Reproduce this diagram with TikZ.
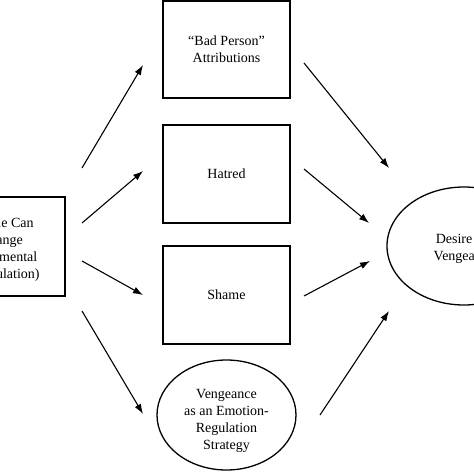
\documentclass[tikz,border=0pt]{standalone}
\usepackage{fontspec}
\setmainfont{Liberation Serif}
\usetikzlibrary{arrows.meta,shapes.geometric}

\begin{document}
\begin{tikzpicture}[x=1pt, y=-1pt, line width=1.3pt,
  box/.style={draw, rectangle, minimum width=127pt, minimum height=97pt,
    inner sep=0pt, align=center, font=\fontsize{14}{17}\selectfont},
  oval/.style={draw, ellipse, minimum width=140pt, minimum height=112pt,
    inner sep=0pt, align=center, font=\fontsize{14}{17}\selectfont},
  link/.style={line width=1.1pt, -{Latex[length=10pt, width=7pt]}}]
  \useasboundingbox (0,0) rectangle (474,474);
  \clip (0,0) rectangle (474,474);

  \node[box, minimum height=99pt] (change) at (1.5,246.5)
    {\rule{0pt}{16pt}People Can\\Change\\(Incremental\\\hspace*{10pt}Regulation)};
  \node[box] (bad) at (226.5,49.5) {“Bad Person”\\Attributions};
  \node[box, minimum height=98pt] (hatred) at (226.5,174) {Hatred};
  \node[box, minimum height=98pt] (shame) at (226.5,295) {Shame};
  \node[oval, minimum width=139pt, minimum height=110pt] (strategy) at (226.5,415)
    {\rule{0pt}{21pt}Vengeance\\as an Emotion-\\Regulation\\Strategy};
  \node[oval, minimum width=154pt, minimum height=118pt] (desire) at (464,246)
    {\rule{0pt}{16pt}Desire for\\Vengeance};

  \coordinate (c1s) at (82,168);  \coordinate (c1e) at (143,65);
  \coordinate (c2s) at (82,223);  \coordinate (c2e) at (143,171);
  \coordinate (c3s) at (82,261);  \coordinate (c3e) at (143,295);
  \coordinate (c4s) at (82,311);  \coordinate (c4e) at (143,414);
  \coordinate (d1s) at (304,63);  \coordinate (d1e) at (389,168);
  \coordinate (d2s) at (304,169); \coordinate (d2e) at (369,223);
  \coordinate (d3s) at (304,296); \coordinate (d3e) at (370,261);
  \coordinate (d4s) at (320,415); \coordinate (d4e) at (389,311);

  \draw[link] (c1s) -- (c1e);
  \draw[link] (c2s) -- (c2e);
  \draw[link] (c3s) -- (c3e);
  \draw[link] (c4s) -- (c4e);

  \draw[link] (d1s) -- (d1e);
  \draw[link] (d2s) -- (d2e);
  \draw[link] (d3s) -- (d3e);
  \draw[link] (d4s) -- (d4e);
\end{tikzpicture}
\end{document}
